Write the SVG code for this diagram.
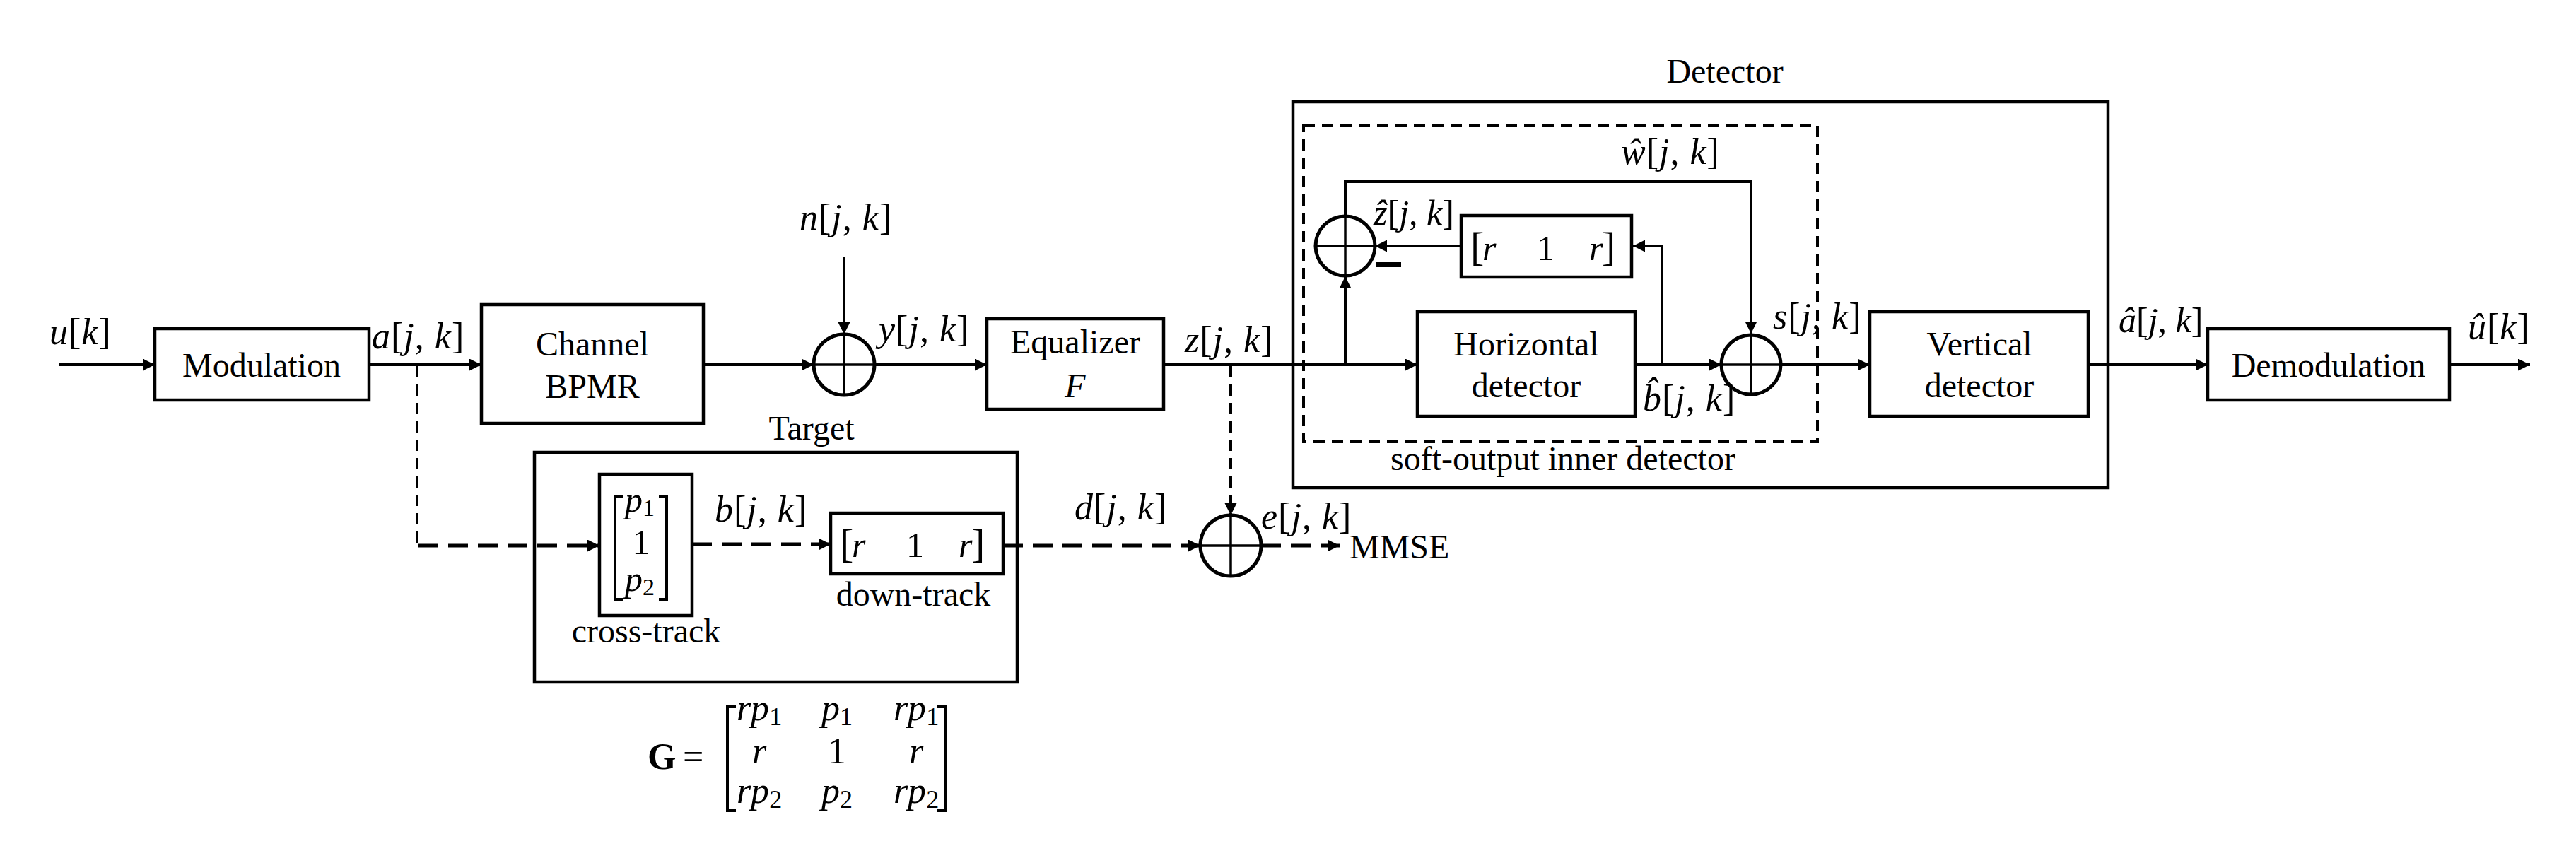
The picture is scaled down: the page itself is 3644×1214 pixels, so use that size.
<svg xmlns="http://www.w3.org/2000/svg" width="3644" height="1214" viewBox="0 0 3644 1214" font-family="Liberation Serif, DejaVu Serif, serif">
<defs>
<marker id="ah" markerUnits="userSpaceOnUse" markerWidth="18" markerHeight="18" refX="17" refY="8.5" orient="auto">
<path d="M0,0 L17,8.5 L0,17 z" fill="#000"/>
</marker>
<style>
text{font-family:'Liberation Serif','DejaVu Serif',serif;fill:#000}
.t{font-size:48px;text-anchor:middle}
.m{font-size:52px;letter-spacing:1px}
.ms{font-size:50px}
.i{font-style:italic}
.bk{font-size:58px}
.box{fill:none;stroke:#000;stroke-width:4.5}
.ln{fill:none;stroke:#000;stroke-width:4}
.thin{fill:none;stroke:#000;stroke-width:3}
.dsh{fill:none;stroke:#000;stroke-width:5;stroke-dasharray:28 14}
.dv{fill:none;stroke:#000;stroke-width:4;stroke-dasharray:16 10}
.dbox{fill:none;stroke:#000;stroke-width:4;stroke-dasharray:16 10}
.sumc{fill:none;stroke:#000;stroke-width:5}
.plus{fill:none;stroke:#000;stroke-width:3.5}
.br{fill:none;stroke:#000;stroke-width:4}
</style>
</defs>
<rect x="0" y="0" width="3644" height="1214" fill="#fff"/>

<g id="connectors">
<line class="ln" x1="83" y1="516" x2="219" y2="516" marker-end="url(#ah)"/>
<line class="ln" x1="522" y1="516" x2="681" y2="516" marker-end="url(#ah)"/>
<line class="ln" x1="995" y1="516" x2="1151" y2="516" marker-end="url(#ah)"/>
<line class="thin" x1="1194" y1="363" x2="1194" y2="473" marker-end="url(#ah)"/>
<line class="ln" x1="1237" y1="516" x2="1396" y2="516" marker-end="url(#ah)"/>
<line class="ln" x1="1646" y1="516" x2="2005" y2="516" marker-end="url(#ah)"/>
<line class="ln" x1="1903" y1="516" x2="1903" y2="391" marker-end="url(#ah)"/>
<polyline class="ln" points="1903,306 1903,257 2477,257 2477,472" marker-end="url(#ah)"/>
<line class="ln" x1="2067" y1="348" x2="1945" y2="348" marker-end="url(#ah)"/>
<line class="ln" x1="2313" y1="516" x2="2435" y2="516" marker-end="url(#ah)"/>
<polyline class="ln" points="2351,516 2351,348 2310,348" marker-end="url(#ah)"/>
<line class="ln" x1="2519" y1="516" x2="2645" y2="516" marker-end="url(#ah)"/>
<line class="ln" x1="2954" y1="516" x2="3123" y2="516" marker-end="url(#ah)"/>
<line class="ln" x1="3465" y1="516" x2="3579" y2="516" marker-end="url(#ah)"/>
<polyline class="dv" points="590,518 590,772"/>
<line class="dsh" x1="592" y1="772" x2="848" y2="772" marker-end="url(#ah)"/>
<line class="dsh" x1="979" y1="770" x2="1175" y2="770" marker-end="url(#ah)"/>
<line class="dsh" x1="1419" y1="772" x2="1698" y2="772" marker-end="url(#ah)"/>
<line class="dv" x1="1741" y1="518" x2="1741" y2="729" marker-end="url(#ah)"/>
<line class="dsh" x1="1784" y1="772" x2="1895" y2="772" marker-end="url(#ah)"/>
</g>

<g id="modulation">
<rect class="box" x="219" y="465" width="303" height="101"/>
<text class="t" x="370" y="533">Modulation</text>
</g>
<g id="channel">
<rect class="box" x="681" y="431" width="314" height="168"/>
<text class="t" x="838" y="503">Channel</text>
<text class="t" x="838" y="563">BPMR</text>
</g>
<g id="sum-noise">
<circle class="sumc" cx="1194" cy="516" r="43"/>
<line class="plus" x1="1151" y1="516" x2="1237" y2="516"/>
<line class="plus" x1="1194" y1="473" x2="1194" y2="559"/>
</g>
<g id="equalizer">
<rect class="box" x="1396" y="451" width="250" height="128"/>
<text class="t" x="1521" y="500">Equalizer</text>
<text class="t i" x="1521" y="562">F</text>
</g>

<g id="detector">
<rect class="box" x="1829" y="144" width="1153" height="546"/>
<text class="t" x="2440" y="117">Detector</text>
</g>
<g id="inner-detector">
<rect class="dbox" x="1844" y="177" width="727" height="448"/>
<text class="t" x="2211" y="665">soft-output inner detector</text>
</g>
<g id="sum-zhat">
<circle class="sumc" cx="1903" cy="348" r="42"/>
<line class="plus" x1="1861" y1="348" x2="1945" y2="348"/>
<line class="plus" x1="1903" y1="306" x2="1903" y2="390"/>
<rect x="1947" y="371" width="35" height="7" fill="#000"/>
</g>
<g id="isi-filter">
<rect class="box" x="2067" y="305" width="241" height="87"/>
<text font-size="50" y="368"><tspan class="bk" x="2080">[</tspan><tspan class="i" x="2097">r</tspan><tspan x="2174">1</tspan><tspan class="i" x="2248">r</tspan><tspan class="bk" x="2266">]</tspan></text>
</g>
<g id="horizontal-detector">
<rect class="box" x="2005" y="441" width="308" height="148"/>
<text class="t" x="2159" y="503">Horizontal</text>
<text class="t" x="2159" y="562">detector</text>
</g>
<g id="sum-s">
<circle class="sumc" cx="2477" cy="516" r="42"/>
<line class="plus" x1="2435" y1="516" x2="2519" y2="516"/>
<line class="plus" x1="2477" y1="474" x2="2477" y2="558"/>
</g>
<g id="vertical-detector">
<rect class="box" x="2645" y="441" width="309" height="148"/>
<text class="t" x="2800" y="503">Vertical</text>
<text class="t" x="2800" y="562">detector</text>
</g>
<g id="demodulation">
<rect class="box" x="3123" y="465" width="342" height="101"/>
<text class="t" x="3294" y="533">Demodulation</text>
</g>

<g id="target">
<rect class="box" x="756" y="640" width="683" height="325"/>
<text class="t" x="1148" y="622">Target</text>
</g>
<g id="cross-track">
<rect class="box" x="848" y="671" width="131" height="200"/>
<path class="br" d="M881,703 H870 V848 H881"/>
<path class="br" d="M932,703 H943 V848 H932"/>
<text x="905" y="724" text-anchor="middle" font-size="50"><tspan class="i">p</tspan><tspan font-size="34" dy="6">1</tspan></text>
<text x="907" y="784" text-anchor="middle" font-size="50">1</text>
<text x="905" y="836" text-anchor="middle" font-size="50"><tspan class="i">p</tspan><tspan font-size="34" dy="6">2</tspan></text>
<text class="t" x="914" y="909">cross-track</text>
</g>
<g id="down-track">
<rect class="box" x="1175" y="726" width="244" height="86"/>
<text font-size="50" y="788"><tspan class="bk" x="1188">[</tspan><tspan class="i" x="1205">r</tspan><tspan x="1282">1</tspan><tspan class="i" x="1356">r</tspan><tspan class="bk" x="1374">]</tspan></text>
<text class="t" x="1292" y="857">down-track</text>
</g>
<g id="sum-error">
<circle class="sumc" cx="1741" cy="772" r="43"/>
<line class="plus" x1="1698" y1="772" x2="1784" y2="772"/>
<line class="plus" x1="1741" y1="729" x2="1741" y2="815"/>
</g>
<g id="mmse">
<text x="1909" y="790" font-size="48">MMSE</text>
</g>

<g id="labels">
<text class="m" x="70" y="487"><tspan class="i">u</tspan>[<tspan class="i">k</tspan>]</text>
<text class="m" x="526" y="493"><tspan class="i">a</tspan>[<tspan class="i">j</tspan>, <tspan class="i">k</tspan>]</text>
<text class="m" x="1131" y="325"><tspan class="i">n</tspan>[<tspan class="i">j</tspan>, <tspan class="i">k</tspan>]</text>
<text class="m" x="1243" y="483"><tspan class="i">y</tspan>[<tspan class="i">j</tspan>, <tspan class="i">k</tspan>]</text>
<text class="m" x="1676" y="498"><tspan class="i">z</tspan>[<tspan class="i">j</tspan>, <tspan class="i">k</tspan>]</text>
<text class="m" x="2293" y="232"><tspan class="i">ŵ</tspan>[<tspan class="i">j</tspan>, <tspan class="i">k</tspan>]</text>
<text class="ms" x="1943" y="318"><tspan class="i">ẑ</tspan>[<tspan class="i">j</tspan>, <tspan class="i">k</tspan>]</text>
<text class="m" x="2324" y="581"><tspan class="i">b̂</tspan>[<tspan class="i">j</tspan>, <tspan class="i">k</tspan>]</text>
<text class="m" x="2508" y="465"><tspan class="i">s</tspan>[<tspan class="i">j</tspan>, <tspan class="i">k</tspan>]</text>
<text class="ms" x="2997" y="470"><tspan class="i">â</tspan>[<tspan class="i">j</tspan>, <tspan class="i">k</tspan>]</text>
<text class="m" x="3491" y="480"><tspan class="i">û</tspan>[<tspan class="i">k</tspan>]</text>
<text class="m" x="1011" y="738"><tspan class="i">b</tspan>[<tspan class="i">j</tspan>, <tspan class="i">k</tspan>]</text>
<text class="m" x="1520" y="735"><tspan class="i">d</tspan>[<tspan class="i">j</tspan>, <tspan class="i">k</tspan>]</text>
<text class="m" x="1784" y="748"><tspan class="i">e</tspan>[<tspan class="i">j</tspan>, <tspan class="i">k</tspan>]</text>
</g>

<g id="g-matrix">
<text x="916" y="1088" font-size="52" font-weight="bold">G</text>
<text x="966" y="1088" font-size="52">=</text>
<path class="br" stroke-width="5" d="M1041,1000 H1029 V1147 H1041"/>
<path class="br" stroke-width="5" d="M1326,1000 H1338 V1147 H1326"/>
<text x="1074" y="1019" font-size="52" text-anchor="middle"><tspan class="i">rp</tspan><tspan font-size="36" dy="7">1</tspan></text>
<text x="1184" y="1019" font-size="52" text-anchor="middle"><tspan class="i">p</tspan><tspan font-size="36" dy="7">1</tspan></text>
<text x="1296" y="1019" font-size="52" text-anchor="middle"><tspan class="i">rp</tspan><tspan font-size="36" dy="7">1</tspan></text>
<text x="1074" y="1080" font-size="52" text-anchor="middle" class="i">r</text>
<text x="1184" y="1080" font-size="52" text-anchor="middle">1</text>
<text x="1296" y="1080" font-size="52" text-anchor="middle" class="i">r</text>
<text x="1074" y="1136" font-size="52" text-anchor="middle"><tspan class="i">rp</tspan><tspan font-size="36" dy="7">2</tspan></text>
<text x="1184" y="1136" font-size="52" text-anchor="middle"><tspan class="i">p</tspan><tspan font-size="36" dy="7">2</tspan></text>
<text x="1296" y="1136" font-size="52" text-anchor="middle"><tspan class="i">rp</tspan><tspan font-size="36" dy="7">2</tspan></text>
</g>
</svg>
